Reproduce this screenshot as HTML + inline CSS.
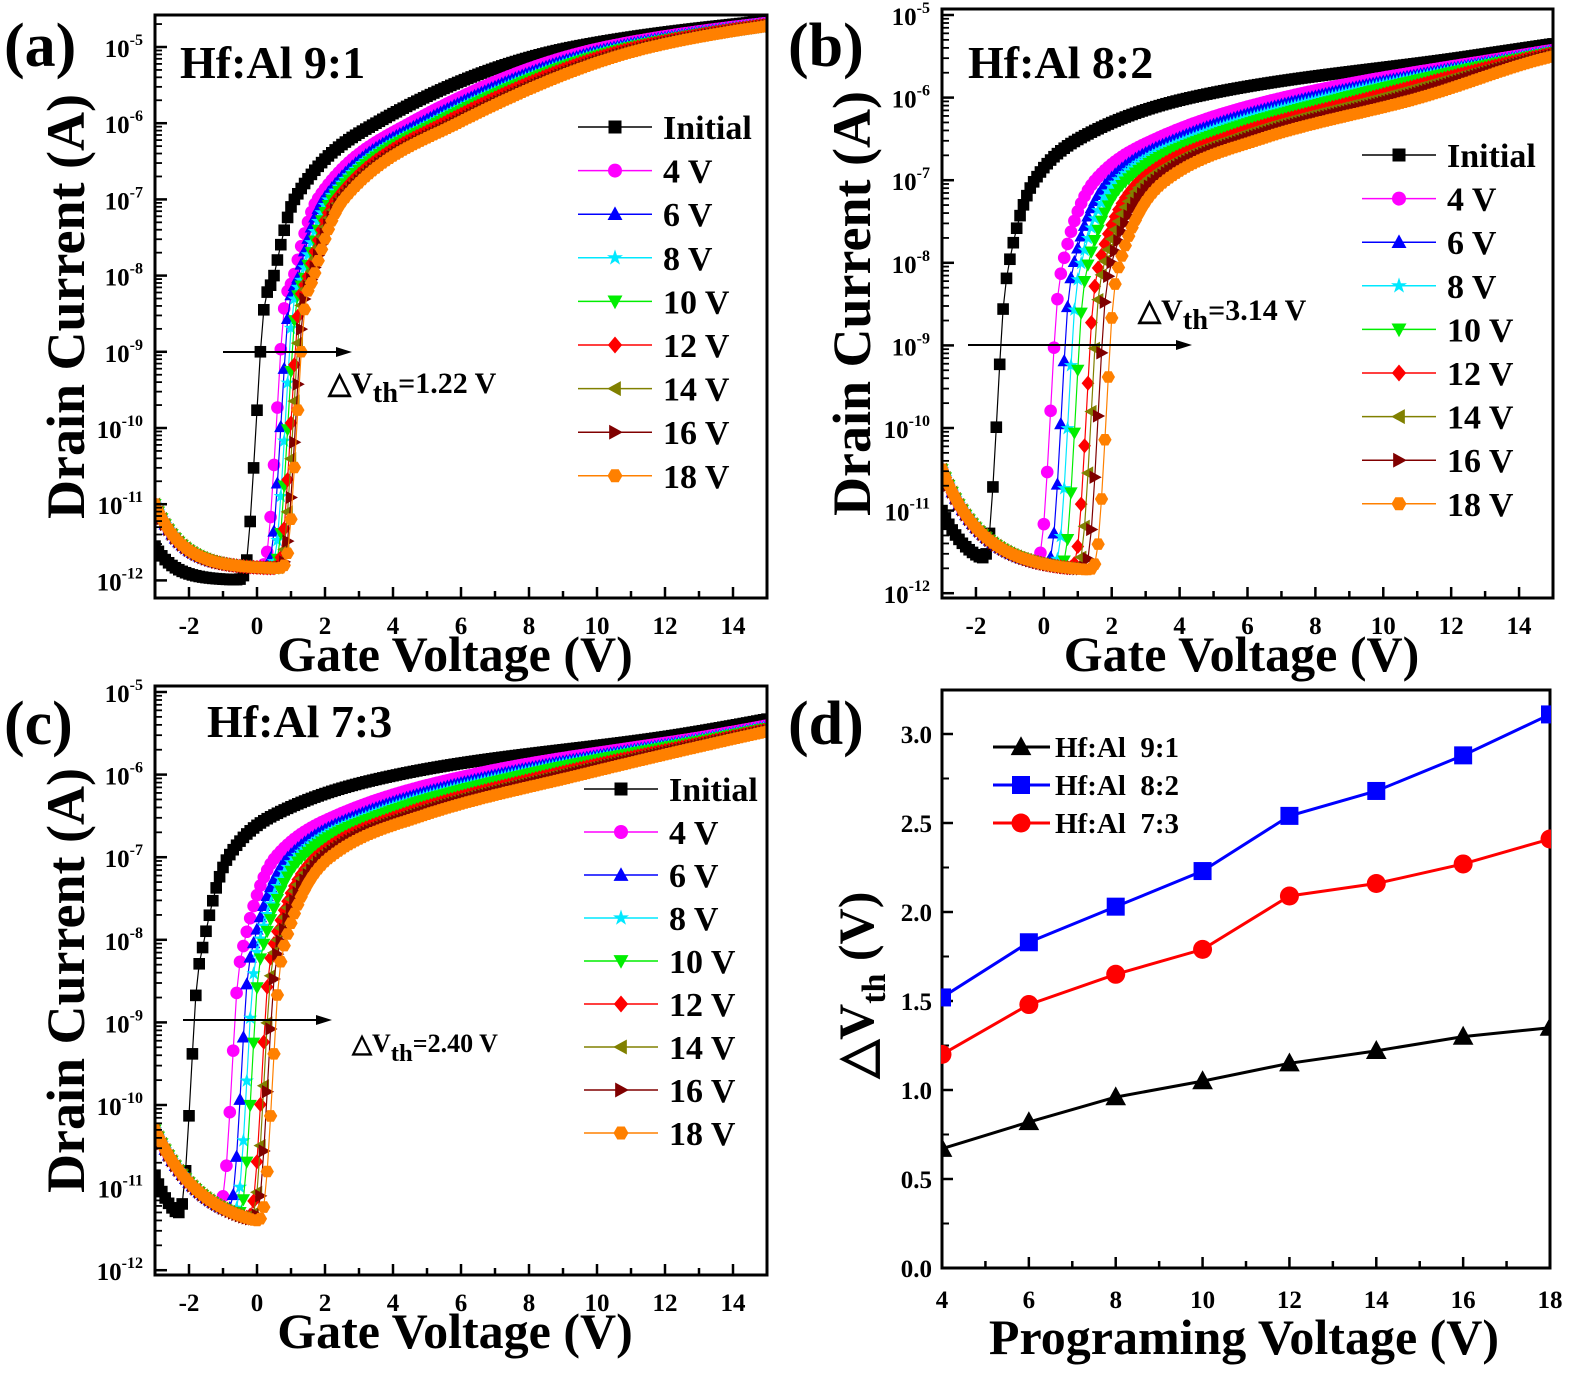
<!DOCTYPE html>
<html><head><meta charset="utf-8">
<style>
html,body{margin:0;padding:0;background:#fff;}
svg{display:block;}
text{font-family:"Liberation Serif",serif;font-weight:bold;fill:#000;}
</style></head>
<body>
<svg id="s" width="1570" height="1374" xmlns="http://www.w3.org/2000/svg"></svg>
<script>
var out=[];
function M(t,x,y,c,s){
  s=s||5;
  switch(t){
   case 'sq':return '<rect x="'+(x-s)+'" y="'+(y-s)+'" width="'+2*s+'" height="'+2*s+'" fill="'+c+'"/>';
   case 'ci':return '<circle cx="'+x+'" cy="'+y+'" r="'+(s+0.5)+'" fill="'+c+'"/>';
   case 'tu':return '<polygon points="'+x+','+(y-s*1.2)+' '+(x-s*1.15)+','+(y+s*0.9)+' '+(x+s*1.15)+','+(y+s*0.9)+'" fill="'+c+'"/>';
   case 'td':return '<polygon points="'+x+','+(y+s*1.2)+' '+(x-s*1.15)+','+(y-s*0.9)+' '+(x+s*1.15)+','+(y-s*0.9)+'" fill="'+c+'"/>';
   case 'tl':return '<polygon points="'+(x-s*1.2)+','+y+' '+(x+s*0.9)+','+(y-s*1.15)+' '+(x+s*0.9)+','+(y+s*1.15)+'" fill="'+c+'"/>';
   case 'tr':return '<polygon points="'+(x+s*1.2)+','+y+' '+(x-s*0.9)+','+(y-s*1.15)+' '+(x-s*0.9)+','+(y+s*1.15)+'" fill="'+c+'"/>';
   case 'di':return '<polygon points="'+x+','+(y-s*1.3)+' '+(x+s*1.1)+','+y+' '+x+','+(y+s*1.3)+' '+(x-s*1.1)+','+y+'" fill="'+c+'"/>';
   case 'st':var p=[];for(var i=0;i<10;i++){var r=i%2?s*0.5:s*1.3,a=-Math.PI/2+i*Math.PI/5;p.push((x+r*Math.cos(a)).toFixed(1)+','+(y+r*Math.sin(a)).toFixed(1));}return '<polygon points="'+p.join(' ')+'" fill="'+c+'"/>';
   case 'hx':var p=[];for(var i=0;i<6;i++){var a=i*Math.PI/3;p.push((x+s*1.15*Math.cos(a)).toFixed(1)+','+(y+s*1.15*Math.sin(a)).toFixed(1));}return '<polygon points="'+p.join(' ')+'" fill="'+c+'"/>';
  }
}
var ser=[['Initial','#000','sq'],['4 V','#ff00ff','ci'],['6 V','#0000ff','tu'],['8 V','#00e8ff','st'],['10 V','#00ee00','td'],['12 V','#ff0000','di'],['14 V','#808000','tl'],['16 V','#800000','tr'],['18 V','#ff8000','hx']];
function T(x,y,s,fs,anc,extra){out.push('<text x="'+x+'" y="'+y+'" font-size="'+fs+'" text-anchor="'+(anc||'start')+'" '+(extra||'')+'>'+s+'</text>');}
// monotone cubic interpolation of y(x)
function pchip(X,Y,slope0){
  var n=X.length,h=[],del=[],m=[];
  for(var i=0;i<n-1;i++){h[i]=X[i+1]-X[i];del[i]=(Y[i+1]-Y[i])/h[i];}
  m[0]=slope0;m[n-1]=del[n-2];
  for(var i=1;i<n-1;i++){
    if(del[i-1]*del[i]<=0)m[i]=0;else{var w1=2*h[i]+h[i-1],w2=h[i]+2*h[i-1];m[i]=(w1+w2)/(w1/del[i-1]+w2/del[i]);}
  }
  return function(x){
    if(x>=X[n-1])return Y[n-1]+(x-X[n-1])*m[n-1];
    var i=0;while(i<n-2&&x>X[i+1])i++;
    var t=(x-X[i])/h[i],t2=t*t,t3=t2*t;
    return (2*t3-3*t2+1)*Y[i]+(t3-2*t2+t)*h[i]*m[i]+(-2*t3+3*t2)*Y[i+1]+(t3-t2)*h[i]*m[i+1];
  };
}
function panel(P){
  var L=P.L,R=P.R,Tp=P.T,B=P.B;
  var xs=function(v){return L+(v+3)*(R-L)/18;};
  var ys=function(lg){return P.y5+(-5-lg)*P.dec;};
  out.push('<defs><clipPath id="c'+P.id+'"><rect x="'+L+'" y="'+Tp+'" width="'+(R-L)+'" height="'+(B-Tp)+'"/></clipPath></defs>');
  out.push('<g clip-path="url(#c'+P.id+')">');
  var tot=P.sh[7];
  for(var k=0;k<9;k++){
    var sh=k==0?0:P.sh[k-1]*P.scale;
    var f=k==0?0:(P.sh[k-1]-P.sh[0]*0.5)/(tot-P.sh[0]*0.5);
    var Dk=P.D0.map(function(v,i){return v*(1-f)+P.D8[i]*f;});
    var fn=pchip(Dk,P.lv,1/P.SS);
    var pts=[],mk=[];
    for(var i=0;i<=180;i++){
      var V=-3+i*0.1;
      var off=k==0?Math.pow(10,P.off0(V)):Math.pow(10,P.off(V));
      var d=V-P.Vth-sh;
      var lg;
      if(d<0) lg=-9+d/P.SS; else lg=fn(d);
      var I=Math.pow(10,lg)+off;
      lg=Math.log(I)/Math.LN10;
      var x=xs(V),y=ys(lg);
      pts.push(x.toFixed(1)+','+y.toFixed(1));
      mk.push(M(ser[k][2],x,y,ser[k][1],5.8));
    }
    out.push('<polyline points="'+pts.join(' ')+'" fill="none" stroke="'+ser[k][1]+'" stroke-width="1.2"/>');
    out.push(mk.join(''));
  }
  out.push('</g>');
  out.push('<rect x="'+L+'" y="'+Tp+'" width="'+(R-L)+'" height="'+(B-Tp)+'" fill="none" stroke="#000" stroke-width="3"/>');
  for(var v=-3;v<=15;v++){var x=xs(v);var maj=(v%2==0);out.push('<line x1="'+x+'" y1="'+B+'" x2="'+x+'" y2="'+(B-(maj?11:7))+'" stroke="#000" stroke-width="2.5"/>');
    if(maj)T(x,B+36,v,25,'middle');}
  for(var e=-12;e<=-5;e++){var y=ys(e);out.push('<line x1="'+L+'" y1="'+y+'" x2="'+(L+12)+'" y2="'+y+'" stroke="#000" stroke-width="2.5"/>');
    T(L-12,y+10,'10<tspan dy="-12" font-size="16">'+e+'</tspan>',25,'end');
    for(var m=2;m<10;m++){var y2=y-Math.log(m)/Math.LN10*P.dec;if(y2>Tp)out.push('<line x1="'+L+'" y1="'+y2+'" x2="'+(L+7)+'" y2="'+y2+'" stroke="#000" stroke-width="1.8"/>');}
  }
  for(var k=0;k<9;k++){var y=P.lg[1]+k*P.lg[3];
    out.push('<line x1="'+P.lg[0]+'" y1="'+y+'" x2="'+(P.lg[0]+74)+'" y2="'+y+'" stroke="'+ser[k][1]+'" stroke-width="1.5"/>');
    out.push(M(ser[k][2],P.lg[0]+37,y,ser[k][1],6.5));
    T(P.lg[0]+85,y+12,ser[k][0],34);}
  var A=P.ar;
  out.push('<line x1="'+A[0]+'" y1="'+A[2]+'" x2="'+(A[1]-12)+'" y2="'+A[2]+'" stroke="#000" stroke-width="2"/>');
  out.push('<polygon points="'+A[1]+','+A[2]+' '+(A[1]-16)+','+(A[2]-5)+' '+(A[1]-16)+','+(A[2]+5)+'" fill="#000"/>');
  T(A[3],A[4],'△V<tspan dy="9" font-size="'+(A[5]*0.95)+'">th</tspan><tspan dy="-9">=</tspan>'+A[6],A[5]);
  T(P.tt[0],P.tt[1],P.tt[2],46);
  T(P.pl[0],P.pl[1],P.pl[2],62);
  T((L+R)/2-6,B+73,'Gate Voltage (V)',50,'middle');
  T(0,0,'Drain Current (A)',54,'middle','transform="translate('+(P.yl)+','+((Tp+B)/2)+') rotate(-90)"');
}
var dA=[0.67,0.82,0.96,1.05,1.15,1.22,1.30,1.35],dB=[1.52,1.83,2.03,2.23,2.54,2.68,2.88,3.11],dC=[1.20,1.48,1.65,1.79,2.09,2.16,2.27,2.41];
panel({id:'a',L:155,R:767,T:15,B:598,y5:47,dec:76.2,Vth:0.1,SS:0.13,sh:dA,scale:1.2/1.35,
 lv:[-9,-8,-7,-6,-5,-4.5],D0:[0,0.4,1.0,3.4,9.2,18.1],D8:[0,0.38,1.25,4.6,10.3,17.1],
 off:function(V){return -11.85+0.85*Math.exp(-(V+3)/0.8);},
 off0:function(V){return -12.0+0.45*Math.exp(-(V+3)/0.6);},
 lg:[578,127,0,43.6],ar:[223,352,352,328,393,30,'1.22 V'],tt:[180,78,'Hf:Al 9:1'],pl:[4,66,'(a)'],yl:84});
panel({id:'b',L:942,R:1553,T:9,B:598,y5:15,dec:82.6,Vth:-1.27,SS:0.13,sh:dB,scale:3.22/3.11,
 lv:[-9,-8,-7,-6.5,-6,-5.5,-5],D0:[0,0.25,1.0,2.3,5.6,13.8,22],D8:[0,0.29,1.65,4.45,9.15,13.05,20],
 off:function(V){return -11.75+1.25*Math.exp(-(V+3)/1.2);},
 off0:function(V){return -11.75+0.75*Math.exp(-(V+3)/0.8);},
 lg:[1362,155,0,43.6],ar:[968,1192,345,1138,320,30,'3.14 V'],tt:[968,78,'Hf:Al 8:2'],pl:[788,66,'(b)'],yl:870});
panel({id:'c',L:155,R:767,T:686,B:1275,y5:692,dec:82.6,Vth:-1.85,SS:0.13,sh:dC,scale:2.4/2.41,
 lv:[-9,-8,-7,-6.5,-6,-5.5,-5],D0:[0,0.3,1.0,2.3,6,14.5,21],D8:[0,0.3,1.6,4.3,9,14.2,20],
 off:function(V){return -11.55+1.25*Math.exp(-(V+3)/1.4);},
 off0:function(V){return -11.55+0.7*Math.exp(-(V+3)/0.6);},
 lg:[584,789,0,43],ar:[183,332,1020,352,1052,26,'2.40 V'],tt:[207,737,'Hf:Al 7:3'],pl:[4,744,'(c)'],yl:84});
(function(){
 var L=942,R=1550,Tp=690,B=1268;
 var xs=function(v){return L+(v-4)*(R-L)/14;},ys=function(v){return B-v*178;};
 out.push('<rect x="'+L+'" y="'+Tp+'" width="'+(R-L)+'" height="'+(B-Tp)+'" fill="none" stroke="#000" stroke-width="3"/>');
 for(var v=4;v<=18;v++){var x=xs(v);var maj=v%2==0;out.push('<line x1="'+x+'" y1="'+B+'" x2="'+x+'" y2="'+(B-(maj?11:7))+'" stroke="#000" stroke-width="2.5"/>');if(maj)T(x,B+40,v,25,'middle');}
 for(var i=0;i<=6;i++){var y=ys(i*0.5);out.push('<line x1="'+L+'" y1="'+y+'" x2="'+(L+11)+'" y2="'+y+'" stroke="#000" stroke-width="2.5"/>');T(L-10,y+9,(i*0.5).toFixed(1),25,'end');
   var y2=ys(i*0.5+0.25);if(y2>Tp)out.push('<line x1="'+L+'" y1="'+y2+'" x2="'+(L+7)+'" y2="'+y2+'" stroke="#000" stroke-width="2"/>');}
 var D=[[dA,'#000','tu'],[dB,'#0000ff','sq'],[dC,'#ff0000','ci']];
 var names=['Hf:Al  9:1','Hf:Al  8:2','Hf:Al  7:3'];
 out.push('<defs><clipPath id="cd"><rect x="'+(L-1)+'" y="'+Tp+'" width="'+(R-L+2)+'" height="'+(B-Tp)+'"/></clipPath></defs><g clip-path="url(#cd)">');
 D.forEach(function(d){var p=[],m='';d[0].forEach(function(v,i){var x=xs(4+2*i),y=ys(v);p.push(x+','+y);m+=M(d[2],x,y,d[1],9);});
  out.push('<polyline points="'+p.join(' ')+'" fill="none" stroke="'+d[1]+'" stroke-width="3"/>'+m);});
 out.push('</g>');
 D.forEach(function(d,i){var y=747+i*38;out.push('<line x1="993" y1="'+y+'" x2="1050" y2="'+y+'" stroke="'+d[1]+'" stroke-width="3"/>'+M(d[2],1021,y,d[1],9));
  T(1055,y+10,names[i].replace(/ /g,'&#160;'),29);});
 T(788,744,'(d)',62);
 T((L+R)/2-2,1354,'Programing Voltage (V)',50,'middle');
 T(0,0,'△V<tspan dy="12" font-size="34">th</tspan><tspan dy="-12"> (V)</tspan>',50,'middle','transform="translate(873,985) rotate(-90)"');
})();
document.getElementById('s').innerHTML=out.join('');
</script>
</body></html>
